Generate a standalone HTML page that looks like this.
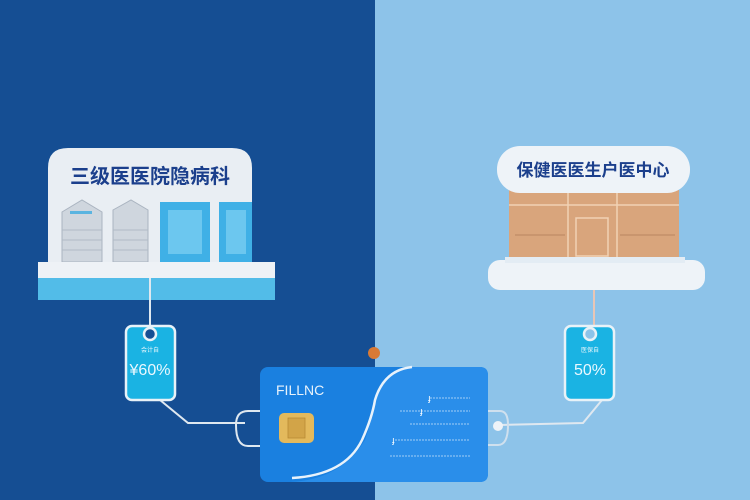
<!DOCTYPE html>
<html><head><meta charset="utf-8"><style>
html,body{margin:0;padding:0;width:750px;height:500px;overflow:hidden}
text{font-family:"Liberation Sans","Noto Sans CJK SC",sans-serif}
</style></head><body>
<svg width="750" height="500" viewBox="0 0 750 500" xmlns="http://www.w3.org/2000/svg">
<rect x="0" y="0" width="375" height="500" fill="#154e93"/>
<rect x="375" y="0" width="375" height="500" fill="#8dc3e9"/>
<!-- left building -->
<path d="M48 200 V168 Q48 148 68 148 H232 Q252 148 252 168 V262 H48 Z" fill="#e9eef3"/>
<text x="150" y="183" font-size="20" font-weight="bold" fill="#1b3f8c" text-anchor="middle">三级医医院隐病科</text>
<path d="M62 262 V212 L82 200 L102 212 V262 Z" fill="#cfd6de" stroke="#aab4c0"/>
<path d="M113 262 V210 L131 200 L148 210 V262 Z" fill="#cfd6de" stroke="#aab4c0"/>
<g stroke="#b0bac6" stroke-width="1"><line x1="62" y1="230" x2="102" y2="230"/><line x1="62" y1="240" x2="102" y2="240"/><line x1="62" y1="250" x2="102" y2="250"/><line x1="113" y1="230" x2="148" y2="230"/><line x1="113" y1="240" x2="148" y2="240"/><line x1="113" y1="250" x2="148" y2="250"/></g>
<rect x="70" y="211" width="22" height="3" fill="#5ab4e0"/>
<rect x="160" y="202" width="50" height="60" fill="#3fb0e6"/><rect x="168" y="210" width="34" height="44" fill="#6cc7ef"/>
<rect x="219" y="202" width="33" height="60" fill="#3fb0e6"/><rect x="226" y="210" width="20" height="44" fill="#6cc7ef"/>
<rect x="38" y="262" width="237" height="16" fill="#eef2f6"/>
<rect x="38" y="278" width="237" height="22" fill="#52bce8"/>
<line x1="150" y1="278" x2="150" y2="330" stroke="#dfe8f0" stroke-width="2"/>
<!-- right building -->
<rect x="509" y="190" width="170" height="68" fill="#d9a57c"/>
<g stroke="#f1d2b4" stroke-width="1.5" fill="none"><line x1="509" y1="205" x2="679" y2="205"/><line x1="568" y1="193" x2="568" y2="258"/><line x1="617" y1="193" x2="617" y2="258"/><rect x="576" y="218" width="32" height="38"/></g>
<g stroke="#b98560" stroke-width="1"><line x1="515" y1="235" x2="565" y2="235"/><line x1="620" y1="235" x2="675" y2="235"/></g>
<rect x="488" y="260" width="217" height="30" rx="12" fill="#eef3f8"/>
<rect x="505" y="257" width="180" height="6" fill="#e3ecf4"/>
<rect x="497" y="146" width="193" height="47" rx="23" fill="#eef3f8"/>
<text x="593" y="176" font-size="17" font-weight="bold" fill="#1b3f8c" text-anchor="middle">保健医医生户医中心</text>
<line x1="594" y1="290" x2="594" y2="330" stroke="#e8c6b6" stroke-width="2"/>
<!-- connectors -->
<polyline points="160,400 188,423 245,423" fill="none" stroke="#dfe8f0" stroke-width="2"/>
<path d="M260 411 H248 Q236 411 236 425 Q236 446 248 446 H260" fill="none" stroke="#dfe8f0" stroke-width="2"/>
<polyline points="602,400 583,423 500,425" fill="none" stroke="#dfe8f0" stroke-width="2"/>
<path d="M487 411 H500 Q508 411 508 425 Q508 445 498 445 H487" fill="none" stroke="#cfe0ee" stroke-width="2"/>
<circle cx="498" cy="426" r="5" fill="#eef3f8"/>
<!-- tags -->
<rect x="126" y="326" width="49" height="74" rx="6" fill="#1ab3e3" stroke="#e8f2f8" stroke-width="2.5"/>
<circle cx="150" cy="334" r="6" fill="#154e93" stroke="#e8f2f8" stroke-width="2.5"/>
<text x="150" y="352" font-size="6" fill="#e8f6fc" text-anchor="middle">会计自</text>
<text x="150" y="375" font-size="16" fill="#eaf8ff" text-anchor="middle">¥60%</text>
<rect x="565" y="326" width="49" height="74" rx="6" fill="#1ab3e3" stroke="#e8f2f8" stroke-width="2.5"/>
<circle cx="590" cy="334" r="6" fill="#8dc3e9" stroke="#e8f2f8" stroke-width="2.5"/>
<text x="590" y="352" font-size="6" fill="#e8f6fc" text-anchor="middle">医保自</text>
<text x="590" y="375" font-size="16" fill="#eaf8ff" text-anchor="middle">50%</text>
<!-- card -->
<circle cx="374" cy="353" r="6" fill="#d87a35"/>
<rect x="260" y="367" width="228" height="115" rx="8" fill="#1a80e0"/>
<path d="M370 367 H480 Q488 367 488 375 V474 Q488 482 480 482 H290 Q340 480 365 440 Q372 420 375 400 Q385 367 410 367 Z" fill="#2a8eea"/>
<path d="M292 478 Q345 475 362 440 Q372 418 375 400 Q384 370 412 367" fill="none" stroke="#e8f2fb" stroke-width="2.5"/>
<text x="276" y="395" font-size="14" fill="#e8f2fb">FILLNC</text>
<rect x="279" y="413" width="35" height="30" rx="5" fill="#e3b95c"/>
<rect x="288" y="418" width="17" height="20" fill="#d2a448" stroke="#b88a34" stroke-width="0.8"/>
<g stroke="#c9e4fa" stroke-width="0.8" stroke-dasharray="2,1"><line x1="430" y1="398" x2="470" y2="398"/><line x1="400" y1="411" x2="470" y2="411"/><line x1="410" y1="424" x2="470" y2="424"/><line x1="395" y1="440" x2="470" y2="440"/><line x1="390" y1="456" x2="470" y2="456"/></g>
<text x="428" y="401" font-size="9" fill="#fff">ɟ</text>
<text x="420" y="414" font-size="9" fill="#fff">ɟ</text>
<text x="392" y="443" font-size="9" fill="#fff">ɟ</text>
</svg>
</body></html>
